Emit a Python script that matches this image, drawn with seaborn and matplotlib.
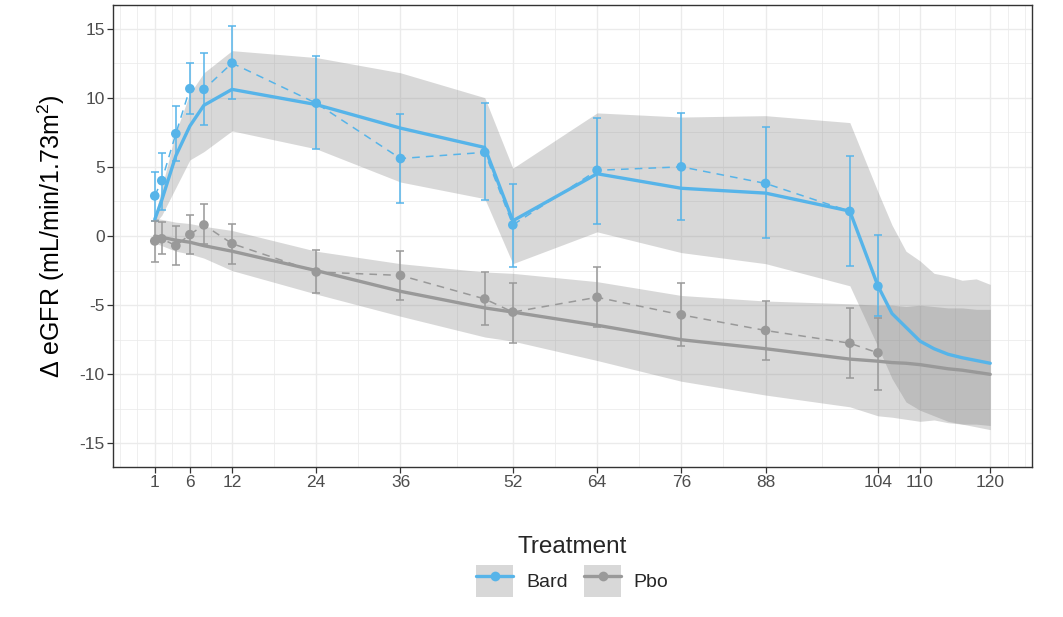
import numpy as np
import pandas as pd
import matplotlib
matplotlib.use("Agg")
import matplotlib.pyplot as plt
import seaborn as sns
from matplotlib.patches import Patch
from matplotlib.lines import Line2D
from matplotlib.legend_handler import HandlerTuple

# ---------------- data ----------------
obs_weeks = [1, 2, 4, 6, 8, 12, 24, 36, 48, 52, 64, 76, 88, 100, 104]

bard_obs_mean = [2.9, 4.0, 7.4, 10.65, 10.6, 12.5, 9.6, 5.6, 6.05, 0.8, 4.75, 5.0, 3.8, 1.78, -3.63]
bard_obs_lo = [1.1, 1.9, 5.4, 8.8, 8.0, 9.9, 6.3, 2.4, 2.6, -2.26, 0.87, 1.15, -0.17, -2.19, -5.75]
bard_obs_hi = [4.6, 6.0, 9.4, 12.5, 13.2, 15.2, 13.0, 8.8, 9.58, 3.75, 8.5, 8.88, 7.85, 5.75, 0.1]

pbo_obs_mean = [-0.36, -0.2, -0.7, 0.1, 0.8, -0.55, -2.6, -2.85, -4.55, -5.5, -4.43, -5.7, -6.83, -7.75, -8.45]
pbo_obs_lo = [-1.85, -1.3, -2.1, -1.3, -0.6, -2.05, -4.1, -4.6, -6.47, -7.7, -6.6, -7.95, -9.0, -10.25, -11.1]
pbo_obs_hi = [1.1, 1.0, 0.7, 1.5, 2.3, 0.9, -1.0, -1.1, -2.58, -3.4, -2.26, -3.4, -4.67, -5.2, -5.9]

fit_weeks = [1, 2, 4, 6, 8, 12, 24, 36, 48, 52, 64, 76, 88, 100, 104,
             106, 108, 110, 112, 114, 116, 118, 120]

bard_fit = [1.2, 2.6, 5.8, 7.95, 9.45, 10.6, 9.5, 7.8, 6.4, 1.1, 4.5, 3.45, 3.1, 1.8, -3.6,
            -5.6, -6.6, -7.6, -8.15, -8.55, -8.8, -9.0, -9.2]
bard_band_lo = [0.9, 1.5, 3.5, 5.5, 6.1, 7.6, 6.3, 3.9, 2.7, -2.0, 0.3, -1.2, -2.0, -3.6, -8.0,
                -10.3, -12.0, -12.6, -13.0, -13.4, -13.6, -13.8, -14.0]
bard_band_hi = [1.4, 3.5, 7.5, 10.3, 11.8, 13.4, 12.9, 11.8, 10.0, 4.9, 8.9, 8.6, 8.7, 8.2, 3.2,
                0.8, -1.1, -1.8, -2.7, -2.9, -3.2, -3.1, -3.5]

pbo_fit = [0.0, -0.1, -0.3, -0.45, -0.7, -1.1, -2.5, -4.0, -5.2, -5.5, -6.45, -7.5, -8.15, -8.9, -9.05,
           -9.15, -9.2, -9.3, -9.45, -9.6, -9.7, -9.85, -10.0]
pbo_band_lo = [-0.5, -0.7, -1.1, -1.3, -1.6, -2.5, -4.2, -5.8, -7.3, -7.6, -9.0, -10.5, -11.5, -12.35, -13.0,
               -13.1, -13.25, -13.4, -13.3, -13.5, -13.6, -13.6, -13.7]
pbo_band_hi = [1.3, 1.2, 1.0, 0.9, 0.7, 0.4, -1.1, -2.0, -2.6, -2.7, -3.3, -4.3, -4.7, -4.9, -5.0,
               -5.0, -5.1, -5.0, -5.1, -5.2, -5.2, -5.3, -5.3]

x_breaks = [1, 6, 12, 24, 36, 52, 64, 76, 88, 104, 110, 120]
y_breaks = [-15, -10, -5, 0, 5, 10, 15]
treatments = ["Bard", "Pbo"]
colors = {"Bard": "#56B4E9", "Pbo": "#999999"}

# ---------------- style ----------------
sns.set_theme(style="white")
plt.rcParams["font.family"] = ["Liberation Sans", "DejaVu Sans"]
plt.rcParams["mathtext.fontset"] = "custom"
plt.rcParams["mathtext.rm"] = "Liberation Sans"
plt.rcParams["mathtext.it"] = "Liberation Sans:italic"

fig = plt.figure(figsize=(10.63, 6.17), dpi=100)
ax = fig.add_axes([113 / 1063, 1 - 467 / 617, (1032 - 113) / 1063, (467 - 5) / 617])

obs = {
    "Bard": (bard_obs_mean, bard_obs_lo, bard_obs_hi),
    "Pbo": (pbo_obs_mean, pbo_obs_lo, pbo_obs_hi),
}
fit = {
    "Bard": (bard_fit, bard_band_lo, bard_band_hi),
    "Pbo": (pbo_fit, pbo_band_lo, pbo_band_hi),
}

band_col = (0.5, 0.5, 0.5, 0.3)
for t in treatments:
    f, lo, hi = fit[t]
    ax.fill_between(fit_weeks, lo, hi, color=band_col, lw=0, zorder=1)

for t in treatments:
    f, lo, hi = fit[t]
    m, elo, ehi = obs[t]
    df_fit = pd.DataFrame({"week": fit_weeks, "value": f})
    df_obs = pd.DataFrame({"week": obs_weeks, "value": m})
    sns.lineplot(data=df_fit, x="week", y="value", color=colors[t], lw=2.4, ax=ax,
                 zorder=3, solid_capstyle="round")
    sns.lineplot(data=df_obs, x="week", y="value", color=colors[t], lw=1.1, ax=ax,
                 linestyle=(0, (5, 4)), zorder=2.5)
    yerr = [np.array(m) - np.array(elo), np.array(ehi) - np.array(m)]
    ax.errorbar(obs_weeks, m, yerr=yerr, fmt="none", ecolor=colors[t], elinewidth=1.1,
                capsize=2.6, capthick=1.1, zorder=4)
    sns.scatterplot(data=df_obs, x="week", y="value", color=colors[t], s=48,
                    edgecolor="none", ax=ax, zorder=5)

# ---------------- axes ----------------
xmin, xmax = min(x_breaks), max(x_breaks)
xr = xmax - xmin
ax.set_xlim(xmin - 0.05 * xr, xmax + 0.05 * xr)
ax.set_ylim(-16.7, 16.7)


def minor_breaks(b, lim):
    # ggplot2-style regular minor breaks
    b = list(b)
    bd = b[1] - b[0]
    if lim[0] < b[0]:
        b = [b[0] - bd] + b
    if lim[1] > b[-1]:
        b = b + [b[-1] + bd]
    mb = set()
    for a, c in zip(b[:-1], b[1:]):
        mb.update([a, (a + c) / 2, c])
    return sorted(v for v in mb if lim[0] <= v <= lim[1])


xl = ax.get_xlim()
yl = ax.get_ylim()
xminor = [v for v in minor_breaks(x_breaks, xl) if v not in x_breaks]
yminor = [v for v in minor_breaks(y_breaks, yl) if v not in y_breaks]

ax.set_xticks(x_breaks)
ax.set_xticklabels([str(v) for v in x_breaks])
ax.set_yticks(y_breaks)
ax.set_yticklabels([str(v) for v in y_breaks])
ax.set_xticks(xminor, minor=True)
ax.set_yticks(yminor, minor=True)

ax.grid(True, which="major", color="#EBEBEB", lw=1.0, zorder=0)
ax.grid(True, which="minor", color="#EBEBEB", lw=0.55, zorder=0)
ax.set_axisbelow(True)

ax.tick_params(axis="both", which="major", length=4, width=0.9, color="#333333",
               labelsize=12.5, labelcolor="#4D4D4D", pad=2, direction="out",
               bottom=True, left=True)
ax.tick_params(axis="both", which="minor", length=0)
for s in ax.spines.values():
    s.set_color("#333333")
    s.set_linewidth(1.0)

ax.set_xlabel("")
ax.set_ylabel("\u0394 eGFR (mL/min/1.73m$^{2}$)", fontsize=18, color="black", labelpad=9)

# ---------------- legend ----------------
handles = []
for t in treatments:
    handles.append((Patch(facecolor=band_col, edgecolor="none"),
                    Line2D([0], [0], color=colors[t], lw=2.4, marker="o", markersize=7,
                           markeredgewidth=0)))
leg = fig.legend(handles, treatments, handler_map={tuple: HandlerTuple(ndivide=1, pad=0)},
                 loc="upper center", bbox_to_anchor=(572.5 / 1063, 1 - 522 / 617),
                 ncol=2, frameon=False, title="Treatment", fontsize=14, title_fontsize=17.5,
                 handlelength=1.9, handleheight=2.2, handletextpad=0.65,
                 columnspacing=0.85, numpoints=1, borderpad=0.2)
leg._legend_box.sep = 5

fig.savefig("out.png", dpi=100)
